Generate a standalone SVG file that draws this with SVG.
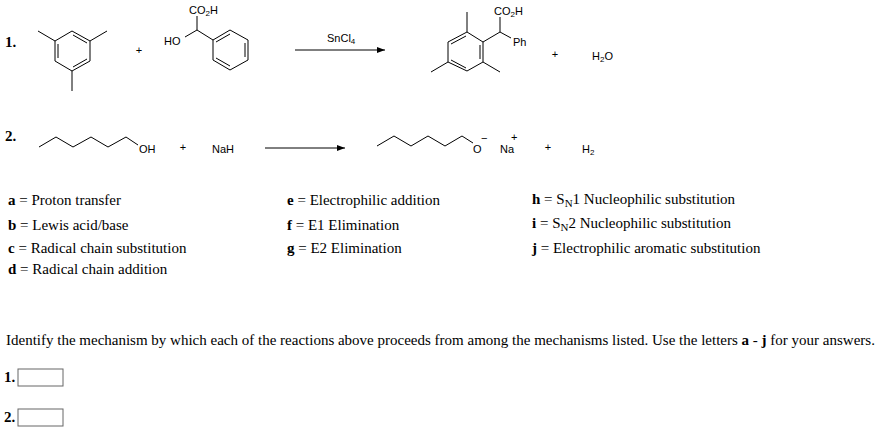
<svg xmlns="http://www.w3.org/2000/svg" width="877" height="432" viewBox="0 0 877 432">
<style>
.b{stroke:#000;stroke-width:1;fill:none}
.s{font-family:"Liberation Sans",Arial,sans-serif;font-size:11px;fill:#000}
.t{font-family:"Liberation Serif","Times New Roman",serif;font-size:15px;fill:#000}
.k{font-weight:bold}
</style>
<defs><marker id="ah" markerWidth="8" markerHeight="6" refX="8" refY="3" orient="auto"><path d="M0,0 L8,3 L0,6 z" fill="#000"/></marker></defs>
<rect width="877" height="432" fill="#fff"/>
<g id="reaction1">
<text class="t k" x="5" y="47">1.</text>
<g class="b">
<polygon points="72,31 90,41 90,61 72,71 55,61 55,41"/>
<line x1="58" y1="44" x2="58" y2="58"/><line x1="73" y1="35" x2="87" y2="43"/><line x1="73" y1="67" x2="87" y2="59"/>
<line x1="55" y1="41" x2="38" y2="31"/><line x1="90" y1="41" x2="107" y2="31"/><line x1="72" y1="71" x2="72" y2="91"/>
</g>
<text class="s" x="139" y="54" text-anchor="middle">+</text>
<g class="b">
<polygon points="230,30 248,40 248,60 230,70 213,60 213,40"/>
<line x1="245" y1="43" x2="245" y2="57"/><line x1="216" y1="58" x2="230" y2="66"/><line x1="216" y1="42" x2="230" y2="34"/>
<line x1="213" y1="40" x2="197" y2="30"/><line x1="197" y1="30" x2="197" y2="16"/><line x1="197" y1="30" x2="185" y2="37"/>
</g>
<text class="s" x="189" y="14">CO<tspan font-size="8" dy="2">2</tspan><tspan dy="-2">H</tspan></text>
<text class="s" x="164" y="45">HO</text>
<line class="b" x1="295" y1="50" x2="385" y2="50" marker-end="url(#ah)"/>
<text class="s" x="327" y="42">SnCl<tspan font-size="8" dy="2">4</tspan></text>
<g class="b">
<polygon points="467,32 483,42 483,62 467,71 448,62 448,42"/>
<line x1="480" y1="45" x2="480" y2="59"/><line x1="451" y1="44" x2="466" y2="36"/><line x1="451" y1="60" x2="466" y2="68"/>
<line x1="467" y1="32" x2="467" y2="12"/><line x1="483" y1="62" x2="500" y2="72"/><line x1="448" y1="62" x2="431" y2="72"/>
<line x1="483" y1="42" x2="500" y2="32"/><line x1="500" y1="32" x2="500" y2="17"/><line x1="500" y1="32" x2="511" y2="38"/>
</g>
<text class="s" x="494" y="15">CO<tspan font-size="8" dy="2">2</tspan><tspan dy="-2">H</tspan></text>
<text class="s" x="513" y="46">Ph</text>
<text class="s" x="555" y="58" text-anchor="middle">+</text>
<text class="s" x="592" y="60">H<tspan font-size="8" dy="2">2</tspan><tspan dy="-2">O</tspan></text>
</g>
<g id="reaction2">
<text class="t k" x="5" y="141">2.</text>
<polyline class="b" points="39,147 56,137 73,147 91,137 108,147 126,137 138,145"/>
<text class="s" x="139" y="153">OH</text>
<text class="s" x="183" y="151" text-anchor="middle">+</text>
<text class="s" x="212" y="153">NaH</text>
<line class="b" x1="265" y1="148" x2="345" y2="148" marker-end="url(#ah)"/>
<polyline class="b" points="377,146 394,136 411,146 428,136 445,146 462,136 473,143"/>
<text class="s" x="473" y="153">O</text>
<text class="s" x="481" y="142" font-size="9">−</text>
<text class="s" x="500" y="153">Na</text>
<text class="s" x="511" y="141" font-size="9">+</text>
<text class="s" x="548" y="151" text-anchor="middle">+</text>
<text class="s" x="582" y="153">H<tspan font-size="8" dy="2">2</tspan></text>
</g>
<g id="legend">
<text class="t" x="8" y="205"><tspan class="k">a</tspan> = Proton transfer</text>
<text class="t" x="8" y="230"><tspan class="k">b</tspan> = Lewis acid/base</text>
<text class="t" x="8" y="253"><tspan class="k">c</tspan> = Radical chain substitution</text>
<text class="t" x="8" y="274"><tspan class="k">d</tspan> = Radical chain addition</text>
<text class="t" x="287" y="205"><tspan class="k">e</tspan> = Electrophilic addition</text>
<text class="t" x="287" y="230"><tspan class="k">f</tspan> = E1 Elimination</text>
<text class="t" x="287" y="253"><tspan class="k">g</tspan> = E2 Elimination</text>
<text class="t" x="532" y="204"><tspan class="k">h</tspan> = S<tspan font-size="11" dy="3">N</tspan><tspan dy="-3">1 Nucleophilic substitution</tspan></text>
<text class="t" x="532" y="228"><tspan class="k">i</tspan> = S<tspan font-size="11" dy="3">N</tspan><tspan dy="-3">2 Nucleophilic substitution</tspan></text>
<text class="t" x="532" y="253"><tspan class="k">j</tspan> = Electrophilic aromatic substitution</text>
</g>
<g id="question">
<text class="t" x="6" y="345">Identify the mechanism by which each of the reactions above proceeds from among the mechanisms listed. Use the letters <tspan class="k">a</tspan> - <tspan class="k">j</tspan> for your answers.</text>
<text class="t k" x="4" y="382">1.</text>
<rect x="18" y="369" width="45" height="17" fill="#fff" stroke="#666"/>
<text class="t k" x="4" y="422">2.</text>
<rect x="18" y="409" width="45" height="17" fill="#fff" stroke="#666"/>
</g>
</svg>
